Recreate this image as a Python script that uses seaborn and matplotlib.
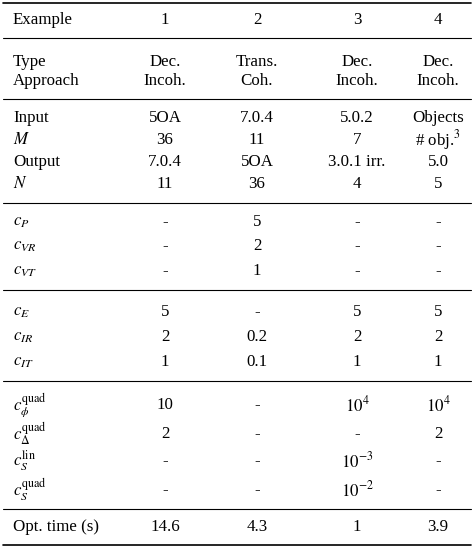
import matplotlib
matplotlib.use("Agg")
import matplotlib.pyplot as plt
import seaborn as sns

sns.set_theme(style="white")
plt.rcParams['font.family'] = ['Liberation Serif', 'DejaVu Serif']
plt.rcParams['mathtext.fontset'] = 'stix'

header = ["Example", "1", "2", "3", "4"]
groups = [
    [["Type", "Dec.", "Trans.", "Dec.", "Dec."],
     ["Approach", "Incoh.", "Coh.", "Incoh.", "Incoh."]],
    [["Input", "5OA", "7.0.4", "5.0.2", "Objects"],
     ["$M$", "36", "11", "7", "# obj.$^3$"],
     ["Output", "7.0.4", "5OA", "3.0.1 irr.", "5.0"],
     ["$N$", "11", "36", "4", "5"]],
    [["$c_P$", "-", "5", "-", "-"],
     ["$c_{VR}$", "-", "2", "-", "-"],
     ["$c_{VT}$", "-", "1", "-", "-"]],
    [["$c_E$", "5", "-", "5", "5"],
     ["$c_{IR}$", "2", "0.2", "2", "2"],
     ["$c_{IT}$", "1", "0.1", "1", "1"]],
    [["$c_\\phi^{\\mathrm{quad}}$", "10", "-", "$10^4$", "$10^4$"],
     ["$c_\\Delta^{\\mathrm{quad}}$", "2", "-", "-", "2"],
     ["$c_S^{\\mathrm{lin}}$", "-", "-", "$10^{-3}$", "-"],
     ["$c_S^{\\mathrm{quad}}$", "-", "-", "$10^{-2}$", "-"]],
    [["Opt. time (s)", "14.6", "4.3", "1", "3.9"]],
]

row_y = [[62, 81], [118, 140, 162, 184], [222, 246, 271], [312, 337, 362],
         [405, 434, 461, 490], [527]]
lines_y = [3, 38, 99, 203, 290, 381, 509, 545]
col_x = [13, 165, 257, 357, 438]

W, H = 474, 547
fig = plt.figure(figsize=(W / 100, H / 100), dpi=100)
ax = fig.add_axes([0, 0, 1, 1])
ax.set_xlim(0, W)
ax.set_ylim(H, 0)
ax.axis("off")

fs = 12.2
def draw_row(cells, y):
    for i, t in enumerate(cells):
        if i == 0:
            ax.text(col_x[0], y, t, ha="left", va="center", fontsize=fs, color="black")
        else:
            ax.text(col_x[i], y, t, ha="center", va="center", fontsize=fs, color="black")

draw_row(header, 20)
for g, ys in zip(groups, row_y):
    for r, y in zip(g, ys):
        draw_row(r, y)

for i, y in enumerate(lines_y):
    lw = 1.2 if i in (0, len(lines_y) - 1) else 0.8
    ax.plot([3, 471], [y, y], color="black", lw=lw)

fig.savefig("out.png", dpi=100)
